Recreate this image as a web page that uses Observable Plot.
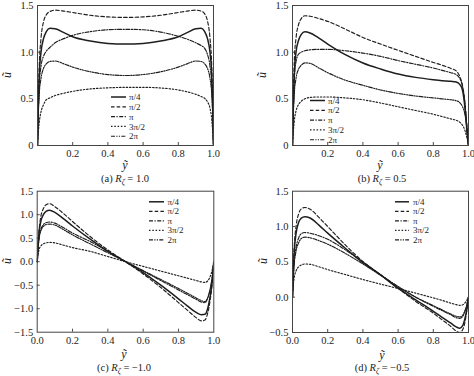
<!DOCTYPE html>
<html><head><meta charset="utf-8">
<script src="https://cdn.jsdelivr.net/npm/d3@7"></script>
<script src="https://cdn.jsdelivr.net/npm/@observablehq/plot@0.6"></script>
<style>
body{margin:0;background:#fff;}
#chart{position:relative;width:474px;height:376px;font-family:"Liberation Serif","DejaVu Serif",serif;color:#222;overflow:hidden;}
.panel{position:absolute;}
.lab{position:absolute;font-size:12px;font-style:italic;transform:translate(-50%,-50%);white-space:nowrap;}
.ylab{transform:translate(-50%,-50%) rotate(-90deg);}
.cap{position:absolute;font-size:10.5px;transform:translate(-50%,-50%);white-space:nowrap;}
.cap sub{font-size:7.5px;}
</style></head><body><div id="chart"></div><script>
// ---- data ----
const xs = [0, 0.005, 0.01, 0.02, 0.035, 0.05, 0.07, 0.1, 0.15, 0.2, 0.3, 0.4, 0.5, 0.6, 0.7, 0.8, 0.85, 0.9, 0.93, 0.95, 0.965, 0.98, 0.99, 0.995, 1];
const seriesNames = ["π/4", "π/2", "π", "3π/2", "2π"];

const a_pi4  = [0, 0.45, 0.75, 1.0, 1.15, 1.22, 1.255, 1.25, 1.21, 1.165, 1.12, 1.094, 1.087, 1.094, 1.12, 1.165, 1.21, 1.25, 1.255, 1.22, 1.15, 1.0, 0.75, 0.45, 0];
const a_pi2  = [0, 0.5, 0.85, 1.15, 1.33, 1.40, 1.435, 1.45, 1.44, 1.425, 1.395, 1.378, 1.372, 1.378, 1.395, 1.425, 1.44, 1.45, 1.44, 1.41, 1.34, 1.15, 0.85, 0.5, 0];
const a_pi   = [0, 0.4, 0.65, 0.85, 0.96, 1.01, 1.05, 1.10, 1.145, 1.18, 1.22, 1.24, 1.245, 1.24, 1.215, 1.17, 1.14, 1.10, 1.07, 1.04, 0.98, 0.85, 0.65, 0.4, 0];
const a_3pi2 = [0, 0.15, 0.25, 0.36, 0.44, 0.49, 0.51, 0.535, 0.56, 0.58, 0.606, 0.618, 0.623, 0.623, 0.616, 0.595, 0.575, 0.548, 0.525, 0.505, 0.47, 0.4, 0.28, 0.16, 0];
const a_2pi  = [0, 0.35, 0.55, 0.72, 0.83, 0.875, 0.9, 0.905, 0.875, 0.84, 0.79, 0.76, 0.75, 0.76, 0.79, 0.84, 0.875, 0.905, 0.9, 0.875, 0.83, 0.72, 0.55, 0.35, 0];

const b_pi4  = [0, 0.45, 0.75, 1.0, 1.13, 1.19, 1.218, 1.205, 1.15, 1.087, 0.973, 0.884, 0.82, 0.766, 0.73, 0.705, 0.695, 0.688, 0.68, 0.655, 0.6, 0.4, 0.18, 0.08, 0];
const b_pi2  = [0, 0.55, 0.9, 1.15, 1.3, 1.36, 1.39, 1.385, 1.36, 1.33, 1.247, 1.158, 1.087, 1.02, 0.955, 0.89, 0.86, 0.825, 0.80, 0.74, 0.65, 0.45, 0.22, 0.1, 0];
const b_pi   = [0, 0.4, 0.7, 0.9, 0.98, 1.0, 1.015, 1.025, 1.03, 1.03, 1.015, 0.99, 0.955, 0.91, 0.87, 0.83, 0.805, 0.78, 0.76, 0.72, 0.64, 0.45, 0.22, 0.1, 0];
const b_3pi2 = [0, 0.15, 0.26, 0.37, 0.44, 0.475, 0.5, 0.515, 0.52, 0.52, 0.51, 0.49, 0.455, 0.415, 0.375, 0.335, 0.31, 0.285, 0.27, 0.25, 0.22, 0.16, 0.09, 0.05, 0];
const b_2pi  = [0, 0.35, 0.55, 0.72, 0.82, 0.86, 0.885, 0.88, 0.83, 0.78, 0.70, 0.645, 0.595, 0.558, 0.53, 0.51, 0.5, 0.49, 0.48, 0.46, 0.42, 0.33, 0.2, 0.1, 0];

const c_pi4  = [0, 0.35, 0.6, 0.85, 1.0, 1.07, 1.095, 1.05, 0.91, 0.76, 0.48, 0.22, 0.0, -0.23, -0.5, -0.79, -0.94, -1.08, -1.13, -1.12, -1.0, -0.72, -0.45, -0.25, 0];
const c_pi2  = [0, 0.38, 0.65, 0.95, 1.13, 1.21, 1.235, 1.17, 1.02, 0.855, 0.535, 0.25, 0.0, -0.26, -0.55, -0.87, -1.03, -1.19, -1.26, -1.24, -1.1, -0.8, -0.5, -0.28, 0];
const c_pi   = [0, 0.3, 0.5, 0.68, 0.79, 0.83, 0.845, 0.82, 0.72, 0.61, 0.43, 0.22, 0.0, -0.2, -0.4, -0.6, -0.7, -0.8, -0.86, -0.87, -0.78, -0.58, -0.36, -0.2, 0];
const c_3pi2 = [0, 0.15, 0.25, 0.33, 0.38, 0.40, 0.41, 0.4, 0.35, 0.3, 0.22, 0.11, 0.0, -0.1, -0.2, -0.3, -0.35, -0.4, -0.43, -0.44, -0.41, -0.31, -0.19, -0.1, 0];
const c_2pi  = [0, 0.28, 0.47, 0.65, 0.75, 0.79, 0.8, 0.78, 0.68, 0.57, 0.38, 0.19, 0.0, -0.19, -0.38, -0.57, -0.67, -0.77, -0.83, -0.85, -0.77, -0.57, -0.35, -0.19, 0];

const d_pi4  = [0, 0.4, 0.65, 0.9, 1.06, 1.12, 1.14, 1.12, 1.02, 0.906, 0.693, 0.49, 0.316, 0.127, -0.038, -0.2, -0.285, -0.368, -0.42, -0.44, -0.41, -0.3, -0.18, -0.1, 0];
const d_pi2  = [0, 0.45, 0.72, 1.0, 1.18, 1.25, 1.27, 1.245, 1.13, 1.0, 0.74, 0.505, 0.316, 0.127, -0.06, -0.226, -0.32, -0.415, -0.48, -0.5, -0.47, -0.35, -0.2, -0.1, 0];
const d_pi   = [0, 0.3, 0.5, 0.7, 0.84, 0.9, 0.915, 0.905, 0.87, 0.82, 0.67, 0.5, 0.32, 0.15, 0.0, -0.13, -0.19, -0.25, -0.29, -0.3, -0.28, -0.2, -0.12, -0.06, 0];
const d_3pi2 = [0, 0.18, 0.28, 0.37, 0.43, 0.455, 0.47, 0.465, 0.43, 0.39, 0.32, 0.25, 0.185, 0.123, 0.057, -0.01, -0.045, -0.085, -0.105, -0.115, -0.11, -0.08, -0.045, -0.02, 0];
const d_2pi  = [0, 0.3, 0.48, 0.65, 0.77, 0.83, 0.85, 0.84, 0.8, 0.75, 0.62, 0.47, 0.31, 0.15, 0.0, -0.12, -0.18, -0.24, -0.27, -0.28, -0.26, -0.19, -0.11, -0.05, 0];

// tick values and labels
const xTicksAB = [0.2, 0.4, 0.6, 0.8, 1.0];
const xLabelsAB = ["0.2", "0.4", "0.6", "0.8", "1.0"];
const xTicksCD = [0, 0.2, 0.4, 0.6, 0.8, 1.0];
const xLabelsCD = ["0.0", "0.2", "0.4", "0.6", "0.8", "1.0"];
const yTicksAB = [0, 0.5, 1.0, 1.5];
const yLabelsAB = ["0", "0.5", "1.0", "1.5"];
const yTicksC = [-1.5, -1.0, -0.5, 0, 0.5, 1.0, 1.5];
const yLabelsC = ["−1.5", "−1.0", "−0.5", "0.0", "0.5", "1.0", "1.5"];
const yTicksD = [-0.5, 0, 0.5, 1.0, 1.5];
const yLabelsD = ["−0.5", "0.0", "0.5", "1.0", "1.5"];
const captionLetters = ["(a)", "(b)", "(c)", "(d)"];
const captionValues = ["1.0", "0.5", "−1.0", "−0.5"];

// ---- styles & layout ----
const lineStyles = [
  {w: 1.5, dash: null},
  {w: 1.15, dash: "3.5,2.2"},
  {w: 1.15, dash: "4,1.5,1.2,1.5"},
  {w: 1.15, dash: "1.5,1.8"},
  {w: 1.15, dash: "4,1.3,1.2,1.3,1.2,1.3"}
];
const ink = "#1e1e1e";

const panels = [
  {series: [a_pi4, a_pi2, a_pi, a_3pi2, a_2pi], left: 0, top: 0, w: 237, h: 188, m: [5, 24, 43, 37],
   yDomain: [0, 1.5], xT: xTicksAB, xL: xLabelsAB, yT: yTicksAB, yL: yLabelsAB,
   leg: {x0: 111, x1: 126, tx: 129, y0: 97, dy: 9.8}, ylab: [7, 75], xlab: [125, 165], cap: [125, 180]},
  {series: [b_pi4, b_pi2, b_pi, b_3pi2, b_2pi], left: 237, top: 0, w: 237, h: 188, m: [5, 6, 43, 55],
   yDomain: [0, 1.5], xT: xTicksAB, xL: xLabelsAB, yT: yTicksAB, yL: yLabelsAB,
   leg: {x0: 73, x1: 88, tx: 91, y0: 100.5, dy: 9.8}, ylab: [262, 75], xlab: [380, 165], cap: [382, 180]},
  {series: [c_pi4, c_pi2, c_pi, c_3pi2, c_2pi], left: 0, top: 186, w: 237, h: 190, m: [4.7, 23.7, 44.3, 36.7],
   yDomain: [-1.5, 1.5], xT: xTicksCD, xL: xLabelsCD, yT: yTicksC, yL: yLabelsC,
   leg: {x0: 149, x1: 164, tx: 167.5, y0: 15.8, dy: 9.5}, ylab: [7, 261], xlab: [124, 354], cap: [124, 369]},
  {series: [d_pi4, d_pi2, d_pi, d_3pi2, d_2pi], left: 237, top: 186, w: 237, h: 190, m: [4.7, 6, 44, 55],
   yDomain: [-0.5, 1.5], xT: xTicksCD, xL: xLabelsCD, yT: yTicksD, yL: yLabelsD,
   leg: {x0: 158, x1: 172, tx: 176, y0: 15.8, dy: 9.5}, ylab: [262.5, 261], xlab: [382, 355], cap: [382, 369]}
];

const chart = document.getElementById("chart");

panels.forEach((p, pi) => {
  const [mt, mr, mb, ml] = p.m;
  const iw = p.w - ml - mr, ih = p.h - mt - mb;
  const xFmt = new Map(p.xT.map((v, i) => [v, p.xL[i]]));
  const yFmt = new Map(p.yT.map((v, i) => [v, p.yL[i]]));
  const lines = p.series.map((arr, si) => Plot.line(
    xs.map((x, j) => ({x, u: arr[j], s: seriesNames[si]})),
    {x: "x", y: "u", curve: "monotone-x", stroke: ink, strokeWidth: lineStyles[si].w,
     strokeDasharray: lineStyles[si].dash, clip: true}
  ));
  const svg = Plot.plot({
    width: p.w, height: p.h,
    marginTop: mt, marginRight: mr, marginBottom: mb, marginLeft: ml,
    style: {fontFamily: "'Liberation Serif', 'DejaVu Serif', serif", fontSize: "10px", color: ink, background: "transparent"},
    x: {domain: [0, 1]},
    y: {domain: p.yDomain},
    marks: [
      ...lines,
      Plot.tickX(p.xT.filter(v => v > 0 && v < 1), {x: d => d, insetTop: ih - 3, stroke: ink, strokeWidth: 0.8}),
      Plot.tickY(p.yT.filter(v => v > p.yDomain[0] && v < p.yDomain[1]), {y: d => d, insetRight: iw - 3, stroke: ink, strokeWidth: 0.8}),
      Plot.axisX(p.xT, {tickSize: 0, tickPadding: 4, tickFormat: d => xFmt.get(d), label: null, fontSize: 10.5}),
      Plot.axisY(p.yT, {tickSize: 0, tickPadding: 4, tickFormat: d => yFmt.get(d), label: null, fontSize: 10.5}),
      Plot.frame({stroke: "#444", strokeWidth: 1})
    ]
  });
  svg.classList.add("panel");
  svg.style.left = p.left + "px";
  svg.style.top = p.top + "px";
  // legend
  const g = d3.select(svg).append("g").attr("class", "legend").attr("text-anchor", "start");
  seriesNames.forEach((name, si) => {
    const y = p.leg.y0 + si * p.leg.dy;
    g.append("line").attr("x1", p.leg.x0).attr("x2", p.leg.x1).attr("y1", y).attr("y2", y)
      .attr("stroke", ink).attr("stroke-width", lineStyles[si].w)
      .attr("stroke-dasharray", lineStyles[si].dash);
    g.append("text").attr("x", p.leg.tx).attr("y", y).attr("dy", "0.35em")
      .attr("text-anchor", "start").attr("font-size", 9).attr("fill", ink).text(name);
  });
  chart.appendChild(svg);

  const yl = document.createElement("div");
  yl.className = "lab ylab"; yl.textContent = "ũ";
  yl.style.left = p.ylab[0] + "px"; yl.style.top = p.ylab[1] + "px";
  chart.appendChild(yl);
  const xl = document.createElement("div");
  xl.className = "lab"; xl.textContent = "ỹ";
  xl.style.left = p.xlab[0] + "px"; xl.style.top = p.xlab[1] + "px";
  chart.appendChild(xl);
  const cap = document.createElement("div");
  cap.className = "cap";
  cap.innerHTML = captionLetters[pi] + " <i>R</i><sub><i>ζ</i></sub> = " + captionValues[pi];
  cap.style.left = p.cap[0] + "px"; cap.style.top = p.cap[1] + "px";
  chart.appendChild(cap);
});
</script></body></html>
